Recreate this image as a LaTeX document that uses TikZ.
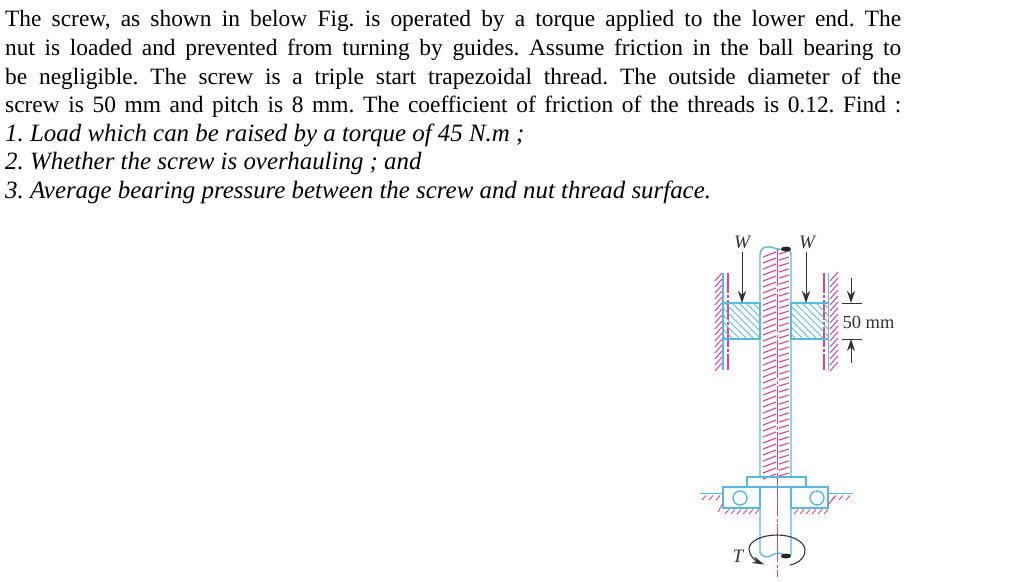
\documentclass[tikz,border=0pt]{standalone}
\usepackage{fontspec}
\setmainfont{Liberation Serif}
\usetikzlibrary{arrows.meta}
\definecolor{screwblue}{HTML}{55B9E2}
\definecolor{threadpink}{HTML}{E0408F}
\definecolor{arrowgray}{HTML}{333333}
\begin{document}
\begin{tikzpicture}[
  x=1pt, y=-1pt,
  outline/.style={draw=screwblue, line width=1.4pt},
  hatching/.style={draw=screwblue, line width=0.9pt},
  thread/.style={draw=threadpink, line width=1.1pt},
  wall/.style={draw=threadpink, line width=1pt},
  centreline/.style={draw=threadpink, line width=1.6pt, dash pattern=on 38pt off 2.5pt on 3pt off 2.5pt},
  guideline/.style={draw=threadpink, line width=1.4pt, dash pattern=on 20pt off 2pt on 3pt off 2pt},
  load/.style={-{Stealth[length=12pt, width=8pt]}, draw=arrowgray, line width=1pt},
  tick/.style={draw=arrowgray, line width=0.8pt},
  torque/.style={draw=arrowgray, line width=1.1pt},
  label/.style={inner sep=0pt, text=arrowgray, font=\fontsize{19}{19}\selectfont\itshape}]

  \useasboundingbox (0,0) rectangle (1024,581);

  % Problem statement
  \node[anchor=north west, inner sep=0pt, text width=896pt, align=justify,
    font=\fontsize{23.4}{28.55}\selectfont\frenchspacing] (statement) at (5,10.5) {%
    The screw, as shown in below Fig. is operated by a torque applied to the lower end. The\linebreak
    nut is loaded and prevented from turning by guides. Assume friction in the ball bearing to\linebreak
    be negligible. The screw is a triple start trapezoidal thread. The outside diameter of the\linebreak
    screw is 50 mm and pitch is 8 mm. The coefficient of friction of the threads is 0.12. Find~:\linebreak
    {\fontsize{24.9}{28.55}\selectfont\itshape 1. Load which can be raised by a torque of 45 N.m ;\\
    2. Whether the screw is overhauling ; and\\
    3. Average bearing pressure between the screw and nut thread surface.\par}};

  % Centre line of the screw
  \draw[centreline] (777.5,248) -- (777.5,577);

  % Thread of the screw
  \foreach \y in {254,260,...,476} {
    \draw[thread] (763,\y+3) -- (776,\y-2);
    \draw[thread] (779,\y) -- (789,\y-3);
  }

  % Guides on both sides
  \foreach \y in {277,283,...,367} {
    \draw[wall] (715,\y+4) -- (722,\y-4);
    \draw[wall] (830,\y+4) -- (838,\y-5);
  }
  \draw[outline] (723,273) -- (723,370);
  \draw[outline] (828.5,273) -- (828.5,370);
  \draw[guideline] (728,273) -- (728,370);
  \draw[guideline] (824,273) -- (824,370);

  % Nut, cut on both sides of the screw
  \begin{scope}
    \clip (723,303) rectangle (760,339);
    \foreach \x in {690,697,...,770} \draw[hatching] (\x,303) -- (\x+36,339);
  \end{scope}
  \begin{scope}
    \clip (791,303) rectangle (828,339);
    \foreach \x in {760,767,...,830} \draw[hatching] (\x,303) -- (\x+36,339);
  \end{scope}
  \draw[outline] (723,303) rectangle (760,339);
  \draw[outline] (791,303) rectangle (828.5,339);

  % Collar and ball bearing
  \draw[outline] (747,477) rectangle (806,487);
  \draw[outline] (723,487) rectangle (760,508);
  \draw[outline] (791,487) rectangle (828,508);
  \node[outline, circle, minimum size=14pt, inner sep=0pt] (ballleft) at (740,498) {};
  \node[outline, circle, minimum size=14pt, inner sep=0pt] (ballright) at (817,498) {};

  % Frame under the bearing
  \draw[outline, line width=1.1pt] (700,493.5) -- (723,493.5);
  \draw[outline, line width=1.1pt] (828,493.5) -- (853,493.5);
  \foreach \x in {702,709,716} \draw[thread, line width=0.9pt] (\x,500) -- (\x+4,495.5);
  \foreach \x in {832,839,846} \draw[thread, line width=0.9pt] (\x,500) -- (\x+4,495.5);
  \draw[thread, line width=0.9pt] (718,512) -- (723,503);
  \draw[thread, line width=0.9pt] (828,505) -- (834,497);
  \foreach \x in {725,731,...,757} \draw[thread, line width=0.9pt] (\x,514) -- (\x+4,509.5);
  \foreach \x in {794,800,...,824} \draw[thread, line width=0.9pt] (\x,514) -- (\x+4,509.5);

  % Screw body with its broken ends
  \draw[outline] (760,477) -- (760,255) .. controls (760,245) and (770,246) .. (777,249)
    .. controls (783,251) and (791,245) .. (791,255) -- (791,477);
  \draw[outline] (760,487) -- (760,553) .. controls (768,562) and (772,553) .. (778,553)
    .. controls (784,553) and (786,558) .. (791,555) -- (791,487);
  \fill[black!85] (786,249) ellipse (5pt and 2.5pt);
  \fill[black!85] (786,556) ellipse (5pt and 2.5pt);

  % Loads
  \node[label] (loadleft) at (742,242) {W};
  \node[label] (loadright) at (807,242) {W};
  \coordinate (nuttopleft) at (742,303);
  \coordinate (nuttopright) at (806,303);
  \draw[load] (loadleft) ++(0,10) -- (nuttopleft);
  \draw[load] (loadright) ++(-1,10) -- (nuttopright);

  % Height of the nut
  \node[inner sep=0pt, text=arrowgray, font=\fontsize{18.5}{18.5}\selectfont] (nutheight) at (868.5,322) {50 mm};
  \coordinate (dimtop) at (851,303);
  \coordinate (dimbottom) at (851,339);
  \coordinate (dimtopstart) at (851,278);
  \coordinate (dimbottomstart) at (851,363);
  \draw[tick] (842,303) -- (862,303);
  \draw[tick] (842,339) -- (862,339);
  \draw[load] (dimtopstart) -- (dimtop);
  \draw[load] (dimbottomstart) -- (dimbottom);

  % Torque at the lower end
  \node[label] (torquelabel) at (738,556) {T};
  \coordinate (torquestart) at (790,565);
  \coordinate (torqueend) at (764,564.5);
  \draw[torque, -{Stealth[length=12pt, width=7pt]}] (torquestart)
    .. controls (800,563) and (806,556) .. (805,549)
    .. controls (803,540) and (790,535) .. (777,535)
    .. controls (762,535) and (749,541) .. (749,549)
    .. controls (749,556) and (756,561) .. (torqueend);

\end{tikzpicture}
\end{document}
